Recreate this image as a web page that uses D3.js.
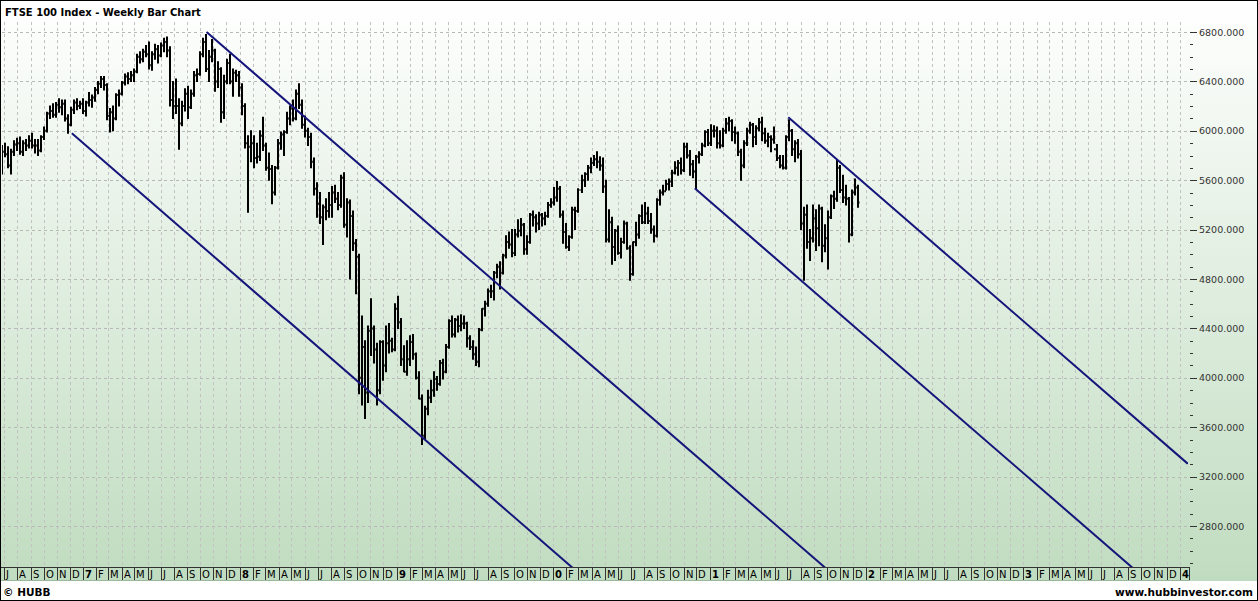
<!DOCTYPE html>
<html><head><meta charset="utf-8">
<script src="https://cdn.jsdelivr.net/npm/d3@7"></script>
<style>body{margin:0;background:#fff;}svg{display:block;}</style>
</head><body>
<svg id="chart" width="1258" height="601"></svg>
<script>
// ---- data: weekly bars [open, high, low, close], weeks starting Monday ----
const firstWeek = "2006-06-26";
const ohlc2006 = [
[5740,5880,5650,5830],[5830,5900,5790,5810],[5810,5870,5700,5720],[5720,5850,5650,5830],
[5830,5920,5800,5890],[5890,5940,5840,5900],[5900,5950,5810,5830],[5830,5920,5800,5900],
[5900,5930,5840,5880],[5880,5960,5860,5920],[5920,5980,5860,5880],[5880,5930,5820,5880],
[5880,5930,5800,5840],[5840,5960,5830,5950],[5950,6030,5930,6000],[6000,6150,5990,6140],
[6140,6200,6100,6160],[6160,6220,6110,6130],[6130,6230,6110,6210],[6210,6260,6150,6190],
[6190,6250,6130,6220],[6220,6250,6080,6100],[6100,6130,5980,6050],[6050,6190,6040,6170],
[6170,6250,6140,6230],[6230,6260,6170,6200],[6200,6240,6180,6220]];
const ohlc2007 = [
[6220,6260,6140,6160],[6160,6240,6120,6230],[6230,6310,6200,6250],[6250,6290,6190,6270],
[6270,6350,6240,6330],[6330,6400,6300,6380],[6380,6440,6350,6420],[6420,6440,6330,6370],
[6370,6380,6090,6120],[6120,6180,5990,6150],[6150,6200,6000,6100],[6100,6300,6090,6290],
[6290,6330,6200,6300],[6300,6400,6290,6390],[6390,6460,6370,6440],[6440,6470,6380,6420],
[6420,6480,6400,6450],[6450,6500,6400,6480],[6480,6620,6470,6600],[6600,6640,6550,6580],
[6580,6660,6560,6640],[6640,6690,6600,6620],[6620,6720,6500,6530],[6530,6640,6490,6620],
[6620,6700,6580,6660],[6660,6690,6550,6610],[6610,6710,6600,6690],[6690,6750,6640,6720],
[6720,6760,6600,6650],[6650,6680,6200,6250],[6250,6400,6100,6200],[6200,6420,6140,6200],
[6200,6260,5850,6060],[6060,6240,6040,6200],[6200,6340,6160,6300],[6300,6360,6100,6190],
[6190,6330,6180,6300],[6300,6480,6280,6450],[6450,6500,6400,6460],[6460,6640,6450,6620],
[6620,6750,6600,6720],[6720,6780,6480,6500],[6500,6650,6400,6600],[6600,6740,6560,6650],
[6650,6660,6320,6400],[6400,6560,6350,6500],[6500,6510,6070,6150],[6150,6450,6100,6400],
[6400,6580,6380,6550],[6550,6620,6380,6400],[6400,6500,6280,6470],[6470,6490,6400,6450],
[6450,6480,6280,6350]];
const ohlc2008 = [
[6350,6380,6130,6200],[6200,6220,5860,5900],[5900,5960,5340,5870],[5870,6000,5750,5900],
[5900,5960,5700,5780],[5780,5900,5740,5790],[5790,6000,5760,5960],[5960,6110,5840,5880],
[5880,5900,5680,5700],[5700,5820,5600,5690],[5690,5720,5410,5500],[5500,5710,5480,5700],
[5700,5930,5690,5900],[5900,5990,5850,5970],[5970,6000,5800,5990],[5990,6150,5980,6100],
[6100,6200,6050,6180],[6180,6250,6080,6100],[6100,6330,6090,6300],[6300,6380,6180,6210],
[6210,6250,6020,6050],[6050,6120,5950,6000],[6000,6020,5880,5950],[5950,5980,5700,5750],
[5750,5780,5480,5530],[5530,5580,5300,5410],[5410,5500,5250,5300],[5300,5400,5080,5380],
[5380,5450,5280,5350],[5350,5500,5300,5400],[5400,5550,5300,5500],[5500,5560,5420,5450],
[5450,5500,5360,5400],[5400,5640,5380,5620],[5620,5660,5220,5240],[5240,5450,5140,5420],
[5420,5440,4800,5310],[5310,5350,5030,5090],[5090,5120,4680,4980],[4980,5000,3870,4000],
[4000,4500,3780,4250],[4250,4300,3670,3880],[3880,4420,3800,4380],[4380,4640,4180,4400],
[4400,4420,4120,4230],[4230,4280,3780,3900],[3900,4300,3870,4290],[4290,4300,3980,4100],
[4100,4420,4050,4280],[4280,4440,4200,4300],[4300,4320,4210,4230],[4230,4600,4220,4560]];
const ohlc2009 = [
[4560,4660,4400,4450],[4450,4480,4100,4150],[4150,4260,4050,4050],[4050,4300,4020,4150],
[4150,4340,4100,4290],[4290,4350,4150,4190],[4190,4200,3990,4000],[4000,4050,3830,3830],
[3830,3860,3460,3530],[3530,3770,3500,3750],[3750,3900,3700,3840],[3840,3980,3800,3900],
[3900,4050,3850,3990],[3990,4010,3900,3950],[3950,4140,3940,4120],[4120,4150,3990,4050],
[4050,4270,4040,4250],[4250,4470,4240,4460],[4460,4500,4330,4350],[4350,4480,4330,4470],
[4470,4500,4370,4420],[4420,4510,4380,4440],[4440,4500,4400,4440],[4440,4450,4250,4320],
[4320,4340,4230,4250],[4250,4300,4150,4190],[4190,4250,4100,4130],[4130,4400,4090,4390],
[4390,4560,4380,4560],[4560,4620,4500,4600],[4600,4720,4580,4700],[4700,4750,4650,4700],
[4700,4860,4630,4850],[4850,4920,4810,4900],[4900,4940,4720,4850],[4850,5000,4840,4990],
[4990,5150,4970,5100],[5100,5180,5050,5080],[5080,5200,4980,5010],[5010,5200,4990,5160],
[5160,5280,5140,5190],[5190,5290,5150,5240],[5240,5250,5000,5040],[5040,5150,5000,5100],
[5100,5330,5090,5320],[5320,5350,5230,5300],[5300,5320,5180,5250],[5250,5340,5200,5320],
[5320,5330,5230,5290],[5290,5340,5240,5310],[5310,5420,5300,5400],[5400,5450,5380,5420]];
const ohlc2010 = [
[5420,5540,5400,5460],[5460,5590,5430,5530],[5530,5550,5300,5320],[5320,5350,5090,5180],
[5180,5250,5050,5060],[5060,5150,5030,5140],[5140,5380,5130,5360],[5360,5380,5200,5350],
[5350,5530,5340,5520],[5520,5640,5500,5600],[5600,5660,5550,5650],[5650,5720,5600,5700],
[5700,5780,5660,5740],[5740,5800,5720,5770],[5770,5830,5700,5750],[5750,5790,5680,5720],
[5720,5780,5500,5550],[5550,5600,5100,5120],[5120,5360,5100,5260],[5260,5300,4920,5060],
[5060,5200,4950,5190],[5190,5230,5000,5010],[5010,5130,4970,5100],[5100,5270,5090,5250],
[5250,5260,5040,5050],[5050,5070,4790,4840],[4840,5100,4830,5100],[5100,5260,5070,5160],
[5160,5320,5130,5310],[5310,5400,5250,5260],[5260,5420,5250,5330],[5330,5380,5250,5270],
[5270,5330,5170,5200],[5200,5230,5100,5150],[5150,5450,5140,5440],[5440,5520,5400,5500],
[5500,5560,5480,5510],[5510,5600,5520,5570],[5570,5610,5520,5590],[5590,5680,5550,5660],
[5660,5750,5650,5700],[5700,5760,5640,5740],[5740,5780,5650,5680],[5680,5900,5670,5870],
[5870,5900,5780,5800],[5800,5840,5640,5730],[5730,5760,5620,5670],[5670,5800,5530,5790],
[5790,5830,5740,5810],[5810,5900,5800,5880],[5880,6000,5870,5990],[5990,6010,5880,5900]];
const ohlc2011 = [
[5900,6050,5880,6000],[6000,6040,5950,6000],[6000,6030,5860,5900],[5900,6000,5860,5880],
[5880,6020,5870,6000],[6000,6100,5980,6060],[6060,6110,6000,6080],[6080,6090,5920,5990],
[5990,6030,5900,5980],[5980,5990,5800,5830],[5830,5850,5600,5720],[5720,5920,5700,5900],
[5900,6020,5880,6000],[6000,6070,5980,6050],[6050,6060,5870,5950],[5950,6040,5890,6020],
[6020,6100,6000,6070],[6070,6110,5920,5980],[5980,6020,5900,5920],[5920,5980,5870,5950],
[5950,5960,5830,5930],[5930,6030,5900,5850],[5850,5890,5760,5780],[5780,5800,5700,5720],
[5720,5800,5690,5700],[5700,5960,5690,5950],[5950,6090,5920,6000],[6000,6010,5800,5850],
[5850,5920,5750,5900],[5900,5930,5780,5810],[5810,5840,5200,5250],[5250,5380,4790,5320],
[5320,5400,5050,5100],[5100,5200,4950,5130],[5130,5400,5100,5290],[5290,5360,5030,5210],
[5210,5400,5070,5370],[5370,5380,4940,5070],[5070,5240,5020,5130],[5130,5350,4880,5300],
[5300,5480,5290,5470],[5470,5510,5370,5450],[5450,5760,5430,5700],[5700,5720,5500,5520],
[5520,5640,5420,5460],[5460,5560,5400,5450],[5450,5460,5100,5160],[5160,5520,5150,5500],
[5500,5610,5480,5540],[5540,5560,5380,5420]];

// channel lines (start date, start value, end date, end value)
const channelStartDates  = ["2006-12-06","2007-10-16","2010-11-27","2011-07-03"];
const channelStartValues = [5980, 6800, 5534, 6109];
const channelEndDates    = ["2010-03-01","2011-10-01","2013-09-15","2014-01-19"];
const channelEndValues   = [2420, 2450, 2454, 3305];

const yMajorTicks = [2800,3200,3600,4000,4400,4800,5200,5600,6000,6400,6800];
const yMinorTicks = [2500,2600,2700,2900,3000,3100,3300,3400,3500,3700,3800,3900,4100,4200,4300,
  4500,4600,4700,4900,5000,5100,5300,5400,5500,5700,5800,5900,6100,6200,6300,6500,6600,6700];
const monthLetters = ["J","F","M","A","M","J","J","A","S","O","N","D"];
const xDomain = ["2006-06-26","2014-01-19"];
const yDomain = [2800, 6800];
const titleText = "FTSE 100 Index - Weekly Bar Chart";
const copyrightText = "\u00A9 HUBB";
const siteText = "www.hubbinvestor.com";

// ---- layout ----
const W = 1258, H = 601;
const plot = {left: 2, right: 1188, top: 22, bottom: 567};
const axisRowBottom = 581;
const parse = d3.utcParse("%Y-%m-%d");
const x = d3.scaleUtc().domain(xDomain.map(parse)).range([1.9, 1187.7]);
const y = d3.scaleLinear().domain(yDomain).range([526, 32]);
const FONT = "DejaVu Sans, Verdana, sans-serif";

const svg = d3.select("#chart");
const defs = svg.append("defs");
const grad = defs.append("linearGradient").attr("id","bg").attr("x1",0).attr("y1",0).attr("x2",0).attr("y2",1);
grad.append("stop").attr("offset","0%").attr("stop-color","#ffffff");
grad.append("stop").attr("offset","100%").attr("stop-color","#c0dcc0");
defs.append("clipPath").attr("id","clip").append("rect")
  .attr("x",plot.left).attr("y",plot.top).attr("width",plot.right-plot.left).attr("height",plot.bottom-plot.top);

svg.append("rect").attr("width",W).attr("height",H).attr("fill","#fff");
svg.append("rect").attr("x",0).attr("y",0).attr("width",W).attr("height",axisRowBottom).attr("fill","url(#bg)");

// gridlines
const months = d3.utcMonth.range(parse("2006-07-01"), parse("2014-01-02"));
const grid = svg.append("g").attr("clip-path","url(#clip)");
grid.selectAll("line.v").data(months).join("line")
  .attr("x1",d=>Math.round(x(d))+0.5).attr("x2",d=>Math.round(x(d))+0.5)
  .attr("y1",plot.top).attr("y2",plot.bottom)
  .attr("stroke","#c2c2c2").attr("stroke-width",1).attr("stroke-dasharray","3,3");
grid.selectAll("line.h").data(yMajorTicks).join("line")
  .attr("x1",plot.left).attr("x2",plot.right)
  .attr("y1",d=>Math.round(y(d))+0.5).attr("y2",d=>Math.round(y(d))+0.5)
  .attr("stroke","#b8b8b8").attr("stroke-width",1).attr("stroke-dasharray","3,3");

// bars
const weeks = [].concat(ohlc2006, ohlc2007, ohlc2008, ohlc2009, ohlc2010, ohlc2011);
const start = parse(firstWeek);
const bars = weeks.map((d,i)=>({date: d3.utcDay.offset(start, 7*i), o:d[0], h:d[1], l:d[2], c:d[3]}));
const bg = svg.append("g").attr("clip-path","url(#clip)").attr("stroke","#000").attr("stroke-width",2).attr("fill","none");
bg.selectAll("path").data(bars).join("path")
  .attr("d", d => {
    const cx = Math.round(x(d.date));
    return `M${cx},${y(d.h)-0.5}V${y(d.l)+0.5}M${cx-1.5},${y(d.o)}H${cx}M${cx},${y(d.c)}H${cx+1.5}`;
  });

// channel lines
const cl = svg.append("g").attr("clip-path","url(#clip)");
cl.selectAll("line").data(channelStartDates).join("line")
  .attr("x1",(d,i)=>x(parse(d))).attr("y1",(d,i)=>y(channelStartValues[i]))
  .attr("x2",(d,i)=>x(parse(channelEndDates[i]))).attr("y2",(d,i)=>y(channelEndValues[i]))
  .attr("stroke","#14147a").attr("stroke-width",2);

// y axis (right)
const ya = svg.append("g");
ya.selectAll("line.maj").data(yMajorTicks).join("line")
  .attr("x1",1190).attr("x2",1197).attr("y1",d=>Math.round(y(d))+0.5).attr("y2",d=>Math.round(y(d))+0.5)
  .attr("stroke","#333");
ya.selectAll("line.min").data(yMinorTicks).join("line")
  .attr("x1",1190).attr("x2",1193).attr("y1",d=>Math.round(y(d))+0.5).attr("y2",d=>Math.round(y(d))+0.5)
  .attr("stroke","#333");
ya.selectAll("text").data(yMajorTicks).join("text")
  .attr("x",1199).attr("y",d=>y(d)+3.5)
  .attr("font-family",FONT).attr("font-size","9.5px").attr("fill","#333")
  .text(d=>d3.format(".3f")(d));

// month axis row
const xa = svg.append("g");
xa.append("line").attr("x1",0).attr("x2",1190).attr("y1",plot.bottom+0.5).attr("y2",plot.bottom+0.5).attr("stroke","#333");
xa.append("line").attr("x1",0).attr("x2",1190).attr("y1",axisRowBottom-0.5).attr("y2",axisRowBottom-0.5).attr("stroke","#9ab89a");
xa.selectAll("line.sep").data(months).join("line")
  .attr("x1",d=>Math.round(x(d))+0.5).attr("x2",d=>Math.round(x(d))+0.5)
  .attr("y1",plot.bottom).attr("y2",axisRowBottom-1).attr("stroke","#333");
xa.append("line").attr("x1",1189.5).attr("x2",1189.5).attr("y1",plot.bottom).attr("y2",axisRowBottom-1).attr("stroke","#333");
xa.selectAll("text").data(months).join("text")
  .attr("x",d=>Math.round(x(d))+2).attr("y",578)
  .attr("font-family",FONT).attr("font-size","10px").attr("fill","#000")
  .attr("font-weight",d=>d.getUTCMonth()===0?"bold":"normal")
  .text(d=>d.getUTCMonth()===0 ? String(d.getUTCFullYear()%10) : monthLetters[d.getUTCMonth()]);

// texts
svg.append("text").attr("x",5).attr("y",16).attr("font-family",FONT)
  .attr("font-size","10px").attr("font-weight","bold").attr("fill","#000").text(titleText);
svg.append("text").attr("x",3).attr("y",596).attr("font-family",FONT)
  .attr("font-size","10.5px").attr("font-weight","bold").attr("fill","#000").text(copyrightText);
svg.append("text").attr("x",1253).attr("y",596).attr("text-anchor","end").attr("font-family",FONT)
  .attr("font-size","10.5px").attr("font-weight","bold").attr("fill","#000").text(siteText);

// frame
svg.append("rect").attr("x",0.5).attr("y",0.5).attr("width",W-1).attr("height",H-1).attr("fill","none").attr("stroke","#000");
</script>
</body></html>
